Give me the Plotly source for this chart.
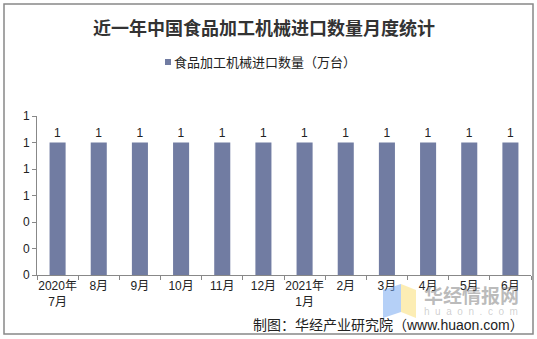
import plotly.graph_objects as go

# Monthly import volume of food processing machinery (10k units)
months = ["2020年<br>7月", "8月", "9月", "10月", "11月", "12月",
          "2021年<br>1月", "2月", "3月", "4月", "5月", "6月"]
volumes = [1, 1, 1, 1, 1, 1, 1, 1, 1, 1, 1, 1]
series_name = "食品加工机械进口数量（万台）"

W, H = 537, 339
L, R, T, B = 37, 6, 116, 64
pw, ph = W - L - R, H - T - B


def px(x):
    return (x - L) / pw


def py(y):
    return (H - B - y) / ph


num_font = "Liberation Sans, Arial, Noto Sans CJK SC"
cjk_font = "Liberation Sans, Noto Sans CJK SC"

fig = go.Figure()
fig.add_trace(go.Bar(
    x=months, y=volumes, name=series_name,
    marker=dict(color="#717ca2", line=dict(width=0)),
    width=0.39,
    text=[str(v) for v in volumes], textposition="outside",
    textfont=dict(size=12, color="#222222", family=num_font),
    cliponaxis=False,
))

fig.update_layout(
    width=W, height=H,
    margin=dict(l=L, r=R, t=T, b=B),
    paper_bgcolor="white", plot_bgcolor="white",
    showlegend=False,
    bargap=0.61,
    xaxis=dict(
        type="category", showline=True, linecolor="#888888", linewidth=1,
        ticks="outside", tickson="boundaries", ticklen=4, tickcolor="#888888",
        tickangle=0,
        tickfont=dict(size=12, color="#222222", family=cjk_font),
        showgrid=False,
    ),
    yaxis=dict(
        range=[0, 1.2], dtick=0.2, tickformat=".0f",
        showline=True, linecolor="#888888", linewidth=1,
        ticks="outside", ticklen=4, tickcolor="#888888",
        tickfont=dict(size=12, color="#222222", family=num_font),
        showgrid=False, zeroline=False,
    ),
    font=dict(family=cjk_font),
)

# Outer frame
fig.add_shape(type="rect", xref="paper", yref="paper",
              x0=px(4), x1=px(533), y0=py(334), y1=py(4),
              line=dict(color="#888888", width=1.5), fillcolor="rgba(0,0,0,0)",
              layer="below")

# Title
fig.add_annotation(xref="paper", yref="paper", x=px(264), y=py(27),
                   text="<b>近一年中国食品加工机械进口数量月度统计</b>", showarrow=False,
                   font=dict(size=18, color="#333333", family="Noto Sans CJK SC"),
                   xanchor="center", yanchor="middle")

# Legend entry
fig.add_shape(type="rect", xref="paper", yref="paper",
              x0=px(165), x1=px(171), y0=py(65), y1=py(59),
              fillcolor="#717ca2", line=dict(width=0))
fig.add_annotation(xref="paper", yref="paper", x=px(172), y=py(62),
                   text=series_name, showarrow=False,
                   font=dict(size=13, color="#222222", family=cjk_font),
                   xanchor="left", yanchor="middle")

# Watermark logo
fig.add_shape(type="path", xref="paper", yref="paper",
              path=f"M {px(383)},{py(290)} L {px(401)},{py(284)} L {px(401)},{py(312)} L {px(383)},{py(318)} Z",
              fillcolor="rgba(120,170,240,0.55)", line=dict(width=0))
fig.add_shape(type="path", xref="paper", yref="paper",
              path=f"M {px(401)},{py(284)} L {px(416)},{py(290)} L {px(416)},{py(318)} L {px(401)},{py(312)} Z",
              fillcolor="rgba(250,225,130,0.6)", line=dict(width=0))
fig.add_annotation(xref="paper", yref="paper", x=px(471), y=py(294),
                   text="<b>华经情报网</b>", showarrow=False,
                   font=dict(size=19, color="rgba(120,120,120,0.5)", family="Noto Sans CJK SC"),
                   xanchor="center", yanchor="middle")
fig.add_annotation(xref="paper", yref="paper", x=px(471), y=py(311),
                   text="h  u  a  o  n  .  c  o  m", showarrow=False,
                   font=dict(size=10, color="rgba(150,150,150,0.45)", family="Liberation Sans"),
                   xanchor="center", yanchor="middle")

# Source note
fig.add_annotation(xref="paper", yref="paper", x=px(526), y=py(325),
                   text="制图：华经产业研究院（www.huaon.com）", showarrow=False,
                   font=dict(size=14, color="#222222", family=cjk_font),
                   xanchor="right", yanchor="middle")

fig.write_html("out.html")
